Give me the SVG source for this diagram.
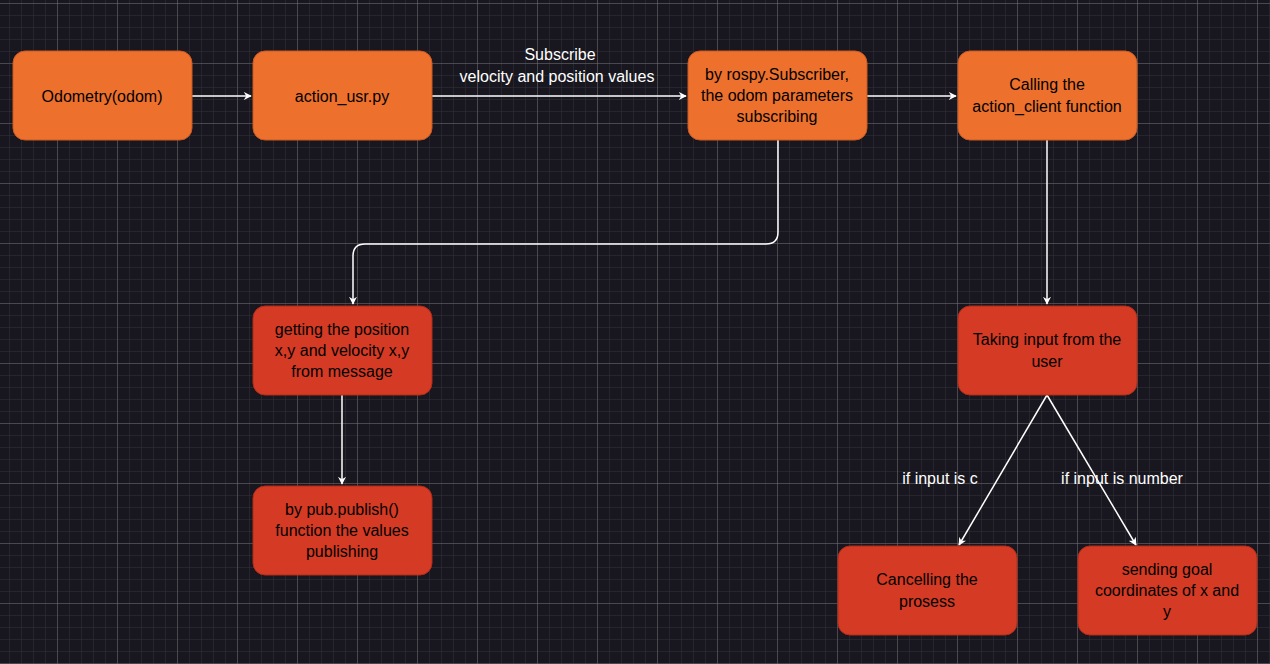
<svg xmlns="http://www.w3.org/2000/svg" width="1270" height="664" viewBox="0 0 1270 664">
<defs>
<pattern id="minor" x="-3" y="3" width="12" height="12" patternUnits="userSpaceOnUse"><path d="M0 0H12M0 0V12" stroke="#34323a" stroke-width="1" fill="none"/></pattern>
<pattern id="major" x="-3" y="3" width="60" height="60" patternUnits="userSpaceOnUse"><path d="M0 0H60M0 0V60" stroke="#6e6c72" stroke-width="1" fill="none"/></pattern>
<marker id="ah" viewBox="0 0 10 10" refX="9" refY="5" markerWidth="8" markerHeight="8" markerUnits="userSpaceOnUse" orient="auto"><path d="M0 0L10 5L0 10L3 5Z" fill="#fff"/></marker>
</defs>
<style>
.o{fill:#ed702d;stroke:#c85a22}
.r{fill:#d53a24;stroke:#b02c18}
text{font-family:"Liberation Sans",Arial,sans-serif;font-size:16px;text-anchor:middle}
.n text{fill:#000}
.l{fill:#fff}
.c path{stroke:#fff;stroke-width:1.5;fill:none;marker-end:url(#ah)}
</style>
<rect width="1270" height="664" fill="#18161e"/>
<rect width="1270" height="664" fill="url(#minor)"/>
<rect width="1270" height="664" fill="url(#major)"/>
<g class="c">
<path d="M192 96H251"/>
<path d="M432 96H686"/>
<path d="M867 96H956"/>
<path d="M778 140V232Q778 244 766 244H365Q353 244 353 256V304"/>
<path d="M1047 140V304"/>
<path d="M342 395V484"/>
<path d="M1047 395L959 545"/>
<path d="M1047 395L1136 545"/>
</g>
<text class="l" x="560" y="60">Subscribe</text>
<text class="l" x="557" y="82">velocity and position values</text>
<text class="l" x="940" y="484">if input is c</text>
<text class="l" x="1122" y="484">if input is number</text>
<g class="n">
<g id="odom"><rect class="o" x="13" y="51" width="179" height="89" rx="12"/><text x="102" y="102">Odometry(odom)</text></g>
<g id="actionusr"><rect class="o" x="253" y="51" width="179" height="89" rx="12"/><text x="342" y="102">action_usr.py</text></g>
<g id="subscriber"><rect class="o" x="688" y="51" width="179" height="89" rx="12"/><text x="777" y="80">by rospy.Subscriber,</text><text x="777" y="101">the odom parameters</text><text x="777" y="122">subscribing</text></g>
<g id="calling"><rect class="o" x="958" y="51" width="179" height="89" rx="12"/><text x="1047" y="90">Calling the</text><text x="1047" y="112">action_client function</text></g>
<g id="getting"><rect class="r" x="253" y="306" width="179" height="89" rx="12"/><text x="342" y="335">getting the position</text><text x="342" y="356">x,y and velocity x,y</text><text x="342" y="377">from message</text></g>
<g id="publish"><rect class="r" x="253" y="486" width="179" height="89" rx="12"/><text x="342" y="515">by pub.publish()</text><text x="342" y="536">function the values</text><text x="342" y="557">publishing</text></g>
<g id="taking"><rect class="r" x="958" y="306" width="179" height="89" rx="12"/><text x="1047" y="345">Taking input from the</text><text x="1047" y="367">user</text></g>
<g id="cancel"><rect class="r" x="838" y="546" width="179" height="89" rx="12"/><text x="927" y="585">Cancelling the</text><text x="927" y="607">prosess</text></g>
<g id="sending"><rect class="r" x="1078" y="546" width="179" height="89" rx="12"/><text x="1167" y="575">sending goal</text><text x="1167" y="596">coordinates of  x and</text><text x="1167" y="617">y</text></g>
</g>
</svg>
